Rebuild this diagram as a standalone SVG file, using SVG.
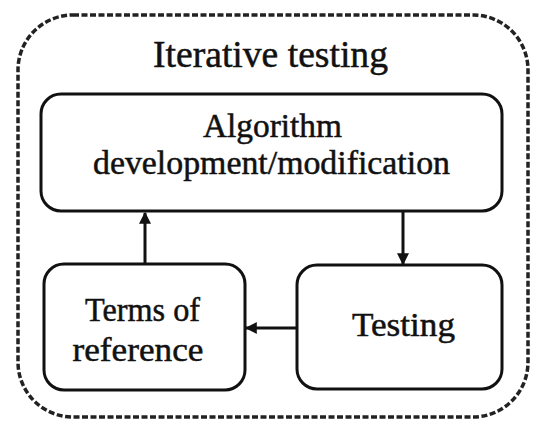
<svg xmlns="http://www.w3.org/2000/svg" width="550" height="433" viewBox="0 0 550 433">
<defs>
<style>
.box{fill:#fff;stroke:#111;stroke-width:3}
.outer{fill:#fff;stroke:#222;stroke-width:3.5;stroke-dasharray:6 2.5}
.t{font-family:"Liberation Serif","Times New Roman",serif;fill:#111;stroke:#111;stroke-width:0.5;text-anchor:middle;font-size:33px}
.conn{stroke:#111;stroke-width:3;fill:none}
</style>
<marker id="ah" viewBox="0 0 10 10" refX="9" refY="5" markerWidth="4" markerHeight="4" orient="auto" markerUnits="strokeWidth">
<path d="M0,0 L10,5 L0,10 z" fill="#111"/>
</marker>
</defs>
<rect width="550" height="433" fill="#fff"/>
<g id="container">
<rect class="outer" x="18" y="15" width="510" height="402" rx="55" ry="55"/>
<text class="t" x="270.5" y="67" style="font-size:37px" textLength="235" lengthAdjust="spacingAndGlyphs">Iterative testing</text>
</g>
<g id="algorithm">
<rect class="box" x="41" y="94" width="461" height="117" rx="20" ry="20"/>
<text class="t" x="272.5" y="137" textLength="139" lengthAdjust="spacingAndGlyphs">Algorithm</text>
<text class="t" x="271.5" y="174" textLength="357" lengthAdjust="spacingAndGlyphs">development/modification</text>
</g>
<g id="terms">
<rect class="box" x="44" y="264" width="201" height="126" rx="20" ry="20"/>
<text class="t" x="142.5" y="321" textLength="115" lengthAdjust="spacingAndGlyphs">Terms of</text>
<text class="t" x="138" y="361" textLength="131" lengthAdjust="spacingAndGlyphs">reference</text>
</g>
<g id="testing">
<rect class="box" x="297" y="265" width="205" height="124" rx="20" ry="20"/>
<text class="t" x="403.5" y="336" textLength="103" lengthAdjust="spacingAndGlyphs">Testing</text>
</g>
<g id="connectors">
<line class="conn" x1="145" y1="264" x2="145" y2="213" marker-end="url(#ah)"/>
<line class="conn" x1="403" y1="211" x2="403" y2="264" marker-end="url(#ah)"/>
<line class="conn" x1="297" y1="328" x2="246" y2="328" marker-end="url(#ah)"/>
</g>
</svg>
